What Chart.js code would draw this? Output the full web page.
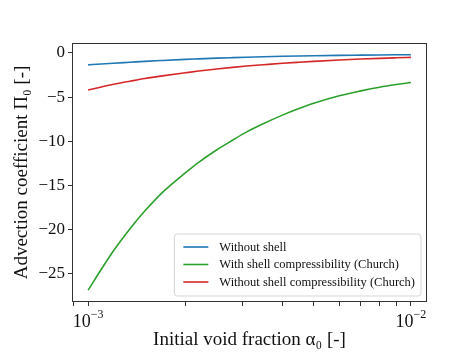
<!DOCTYPE html>
<html><head><meta charset="utf-8">
<script src="https://cdn.jsdelivr.net/npm/chart.js@4.4.0/dist/chart.umd.min.js"></script>
<style>html,body{margin:0;padding:0;background:#fff;}canvas{display:block;}</style>
</head><body>
<canvas id="c" width="474" height="356"></canvas>
<script>
// ---- data ----
const alpha = [1.0e-3, 1.1e-3, 1.2e-3, 1.35e-3, 1.5e-3, 1.7e-3, 2.0e-3, 2.2e-3, 2.5e-3, 2.8e-3,
               3.1e-3, 3.5e-3, 4.0e-3, 4.5e-3, 5.0e-3, 6.0e-3, 7.0e-3, 8.0e-3, 9.0e-3, 1.0e-2];
const withoutShell = [-1.35, -1.25, -1.16, -1.05, -0.95, -0.85, -0.73, -0.67, -0.59, -0.53,
                      -0.48, -0.43, -0.38, -0.34, -0.31, -0.27, -0.245, -0.225, -0.21, -0.2];
const withShellChurch = [-26.9, -24.5, -22.4, -19.9, -17.9, -15.8, -13.6, -12.4, -11.0, -9.9,
                         -8.95, -8.0, -7.05, -6.3, -5.7, -4.85, -4.3, -3.88, -3.58, -3.35];
const withoutShellChurch = [-4.2, -3.85, -3.55, -3.2, -2.9, -2.6, -2.25, -2.05, -1.82, -1.63,
                            -1.48, -1.33, -1.17, -1.05, -0.95, -0.8, -0.69, -0.61, -0.55, -0.5];
const seriesLabels = ['Without shell', 'With shell compressibility (Church)', 'Without shell compressibility (Church)'];
const seriesColors = ['#1f77b4', '#2ca02c', '#d62728'];
const yTickValues = [-25, -20, -15, -10, -5, 0];
const xMajorTicks = [1e-3, 1e-2];
const xMajorLabels = [['10', '−3'], ['10', '−2']];
const xMinorTicks = [9e-4, 2e-3, 3e-3, 4e-3, 5e-3, 6e-3, 7e-3, 8e-3, 9e-3];
const xTitle = 'Initial void fraction α₀ [-]';
const yTitle = 'Advection coefficient Π₀ [-]';

const SERIF = '"Liberation Serif", "Times New Roman", serif';
const toPts = arr => alpha.map((a, i) => ({x: a, y: arr[i]}));

const framePlugin = {
  id: 'frame',
  afterDraw(chart) {
    const {ctx, chartArea: a} = chart;
    ctx.save();
    ctx.strokeStyle = '#333';
    ctx.lineWidth = 1;
    ctx.strokeRect(a.left + 0.5, a.top + 0.5, a.right - a.left - 1, a.bottom - a.top - 1);
    // x tick labels with superscript exponents
    const xs = chart.scales.x;
    ctx.fillStyle = '#111';
    xMajorTicks.forEach((v, i) => {
      const [base, exp] = xMajorLabels[i];
      ctx.font = '18px ' + SERIF;
      const bw = ctx.measureText(base).width;
      ctx.font = '12px ' + SERIF;
      const ew = ctx.measureText(exp).width;
      const px = xs.getPixelForValue(v);
      const x0 = px - (bw + ew) / 2;
      ctx.textBaseline = 'alphabetic';
      ctx.textAlign = 'left';
      ctx.font = '18px ' + SERIF;
      ctx.fillText(base, x0, 327);
      ctx.font = '12px ' + SERIF;
      ctx.fillText(exp, x0 + bw, 318);
    });
    ctx.restore();
  }
};

const legendPlugin = {
  id: 'inlegend',
  afterDatasetsDraw(chart) {
    const {ctx, chartArea: a} = chart;
    const fs = 12.5;
    ctx.save();
    ctx.font = fs + 'px ' + SERIF;
    const ds = chart.data.datasets;
    const tw = Math.max(...ds.map(d => ctx.measureText(d.label).width));
    const w = 9 + 25 + 11 + tw + 6;
    const h = 62;
    const right = a.right - 6, bottom = a.bottom - 6;
    const left = right - w, top = bottom - h;
    const r = 3;
    ctx.beginPath();
    ctx.moveTo(left + r, top);
    ctx.lineTo(right - r, top); ctx.quadraticCurveTo(right, top, right, top + r);
    ctx.lineTo(right, bottom - r); ctx.quadraticCurveTo(right, bottom, right - r, bottom);
    ctx.lineTo(left + r, bottom); ctx.quadraticCurveTo(left, bottom, left, bottom - r);
    ctx.lineTo(left, top + r); ctx.quadraticCurveTo(left, top, left + r, top);
    ctx.closePath();
    ctx.fillStyle = 'rgba(255,255,255,0.85)';
    ctx.fill();
    ctx.strokeStyle = '#d6d6d6';
    ctx.lineWidth = 1;
    ctx.stroke();
    ds.forEach((d, i) => {
      const y = top + 13 + i * 17.5;
      ctx.strokeStyle = d.borderColor;
      ctx.lineWidth = 1.6;
      ctx.beginPath();
      ctx.moveTo(left + 9, y); ctx.lineTo(left + 34, y);
      ctx.stroke();
      ctx.fillStyle = '#111';
      ctx.textBaseline = 'middle';
      ctx.textAlign = 'left';
      ctx.fillText(d.label, left + 45, y + 0.5);
    });
    ctx.restore();
  }
};

new Chart(document.getElementById('c'), {
  type: 'line',
  data: {
    datasets: [
      {label: seriesLabels[0], data: toPts(withoutShell), borderColor: seriesColors[0]},
      {label: seriesLabels[1], data: toPts(withShellChurch), borderColor: seriesColors[1]},
      {label: seriesLabels[2], data: toPts(withoutShellChurch), borderColor: seriesColors[2]}
    ].map(d => Object.assign(d, {borderWidth: 1.6, pointRadius: 0, fill: false, cubicInterpolationMode: 'monotone'}))
  },
  options: {
    responsive: false,
    animation: false,
    devicePixelRatio: 1,
    layout: {padding: {left: 0, right: 47, top: 43, bottom: 0}},
    plugins: {legend: {display: false}, tooltip: {enabled: false}},
    scales: {
      x: {
        type: 'logarithmic',
        min: Math.pow(10, -3.05),
        max: Math.pow(10, -1.95),
        afterBuildTicks: s => { s.ticks = xMajorTicks.concat(xMinorTicks).sort((p, q) => p - q).map(v => ({value: v, major: xMajorTicks.includes(v)})); },
        afterFit: s => { s.height = 54; },
        ticks: {display: false},
        grid: {display: true, drawOnChartArea: false, drawTicks: true, tickLength: 4, tickColor: '#333',
               tickWidth: 1},
        border: {display: false},
        title: {display: true, text: xTitle, color: '#111', font: {family: SERIF, size: 19}, padding: {top: 0, bottom: 5}}
      },
      y: {
        type: 'linear',
        min: -28.24,
        max: 1.13,
        afterBuildTicks: s => { s.ticks = yTickValues.map(v => ({value: v})); },
        afterFit: s => { s.width = 72; },
        ticks: {color: '#111', font: {family: SERIF, size: 17}, padding: 3,
                callback: v => (v < 0 ? '−' + Math.abs(v) : String(v))},
        grid: {display: true, drawOnChartArea: false, drawTicks: true, tickLength: 4, tickColor: '#333'},
        border: {display: false},
        title: {display: true, text: yTitle, color: '#111', font: {family: SERIF, size: 19}, padding: {top: 11, bottom: 0}}
      }
    }
  },
  plugins: [framePlugin, legendPlugin]
});
</script>
</body></html>
